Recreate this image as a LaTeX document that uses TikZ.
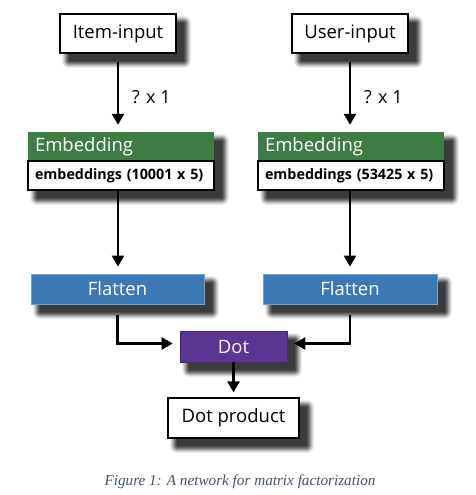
\documentclass[tikz,border=0pt]{standalone}
\usepackage{fontspec}
\setmainfont{Open Sans}
\newfontfamily\capfont{Liberation Serif}
\usetikzlibrary{arrows.meta,calc}
\definecolor{embgreen}{HTML}{3C7D45}
\definecolor{flatblue}{HTML}{3B78B6}
\definecolor{flatedge}{HTML}{6FA0D6}
\definecolor{dotpurple}{HTML}{5A3593}
\definecolor{capcol}{HTML}{44546A}
\definecolor{shadcol}{HTML}{202020}
% soft drop shadow: centre x, centre y, width, height
\newcommand\shbox[4]{%
  \foreach \r/\k in {7/8,6/18,5/30,4/44,3/58,2/70,1/80,0/88}{%
    \fill[shadcol!\k!white, rounded corners=\r pt]
      ({#1-#3/2+9-\r},{#2-#4/2+9-\r}) rectangle ({#1+#3/2+8+\r},{#2+#4/2+8+\r});
  }}
\tikzset{
  iobox/.style={draw=black, line width=1.2pt, fill=white, minimum width=116pt, minimum height=39pt, inner sep=0pt, font=\fontsize{18.5}{20}\selectfont},
  embtop/.style={fill=embgreen, text=white, minimum width=186pt, minimum height=29pt, inner sep=0pt, text width=172pt, align=left, font=\fontsize{18.5}{20}\selectfont},
  embbot/.style={draw=black, line width=1.2pt, fill=white, minimum width=186pt, minimum height=29pt, inner sep=0pt, text width=172pt, align=left, font=\bfseries\fontsize{14.3}{16}\selectfont},
  flatbox/.style={fill=flatblue, draw=flatedge, line width=0.8pt, text=white, minimum height=30pt, inner sep=0pt, font=\fontsize{18.5}{20}\selectfont},
  dotbox/.style={fill=dotpurple, draw=dotpurple!80!black, line width=0.6pt, text=white, minimum width=107pt, minimum height=31pt, inner sep=0pt, font=\fontsize{18.5}{20}\selectfont},
  arr/.style={line width=2.4pt, -{Triangle[width=12pt,length=11pt]}},
  lbl/.style={font=\fontsize{18}{20}\selectfont, anchor=west, inner sep=0pt}
}
\begin{document}
\begin{tikzpicture}[x=1pt,y=-1pt]
\useasboundingbox (0,0) rectangle (476,495);
% shadows (drawn first, behind the boxes)
\shbox{118}{33.5}{116}{39}
\shbox{350}{33.5}{116}{39}
\shbox{121}{161}{186}{58}
\shbox{351}{161}{186}{58}
\shbox{117.5}{289}{173}{30}
\shbox{350}{289}{174}{30}
\shbox{233.5}{346.5}{107}{31}
\shbox{233.5}{418}{131}{40}
% inputs
\node[iobox] (itemIn) at (118,33.5) {Item-input};
\node[iobox] (userIn) at (350,33.5) {User-input};
% embeddings
\node[embtop] (embIt) at (121,146.5) {Embedding};
\node[embbot] (embIb) at (121,175.5) {embeddings (10001 x 5)};
\node[embtop] (embUt) at (351,146.5) {Embedding};
\node[embbot] (embUb) at (351,175.5) {embeddings (53425 x 5)};
% flatten
\node[flatbox, minimum width=173pt] (flatI) at (117.5,289) {Flatten};
\node[flatbox, minimum width=174pt] (flatU) at (350,289) {Flatten};
% dot
\node[dotbox] (dot) at (233.5,346.5) {Dot};
\node[iobox, minimum width=131pt, minimum height=40pt] (prod) at (233.5,418) {Dot product};
% caption
\node[font=\capfont\itshape\fontsize{15.2}{17}\selectfont, text=capcol] (cap) at (240,482) {Figure 1: A network for matrix factorization};
% arrows
\draw[arr, shorten <=8pt, shorten >=7pt] (itemIn.south) -- (itemIn.south |- embIt.north);
\draw[arr, shorten <=8pt, shorten >=7pt] (userIn.south) -- (userIn.south |- embUt.north);
\node[lbl] (lblI) at (132,97) {? x 1};
\node[lbl] (lblU) at (364,97) {? x 1};
\draw[arr, shorten >=7pt] (itemIn.south |- embIb.south) -- (itemIn.south |- flatI.north);
\draw[arr, shorten >=7pt] (userIn.south |- embUb.south) -- (userIn.south |- flatU.north);
\draw[arr, shorten <=11pt, shorten >=7pt] (flatI.south) |- ($(dot.west)+(0,-3)$);
\draw[arr, shorten <=11pt, shorten >=7pt] (flatU.south) |- ($(dot.east)+(0,-3)$);
\draw[arr, shorten >=5pt] (dot.south) -- (prod.north);
\end{tikzpicture}
\end{document}
